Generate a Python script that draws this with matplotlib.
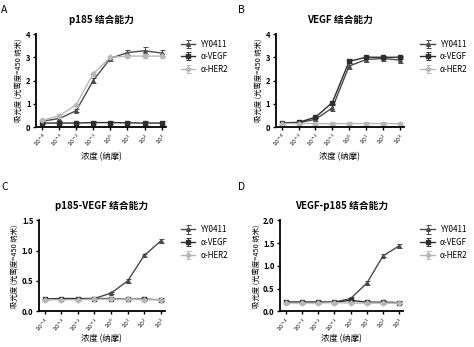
import numpy as np
import matplotlib
matplotlib.use("Agg")
from matplotlib import pyplot as plt

plt.rcParams['font.family'] = ['Noto Sans CJK SC', 'DejaVu Sans']
plt.rcParams['axes.unicode_minus'] = False

# concentrations (nM)
conc = [1e-4, 1e-3, 1e-2, 1e-1, 1e0, 1e1, 1e2, 1e3]
tick_labels = ['$10^{-4}$', '$10^{-3}$', '$10^{-2}$', '$10^{-1}$',
               '$10^{0}$', '$10^{1}$', '$10^{2}$', '$10^{3}$']
series_names = ['YY0411', 'α-VEGF', 'α-HER2']

# panel A: p185 binding
a_yy = [0.25, 0.36, 0.70, 2.00, 2.95, 3.20, 3.28, 3.18]
a_vegf = [0.17, 0.17, 0.17, 0.19, 0.19, 0.18, 0.17, 0.17]
a_her2 = [0.28, 0.48, 0.95, 2.30, 3.00, 3.05, 3.05, 3.05]
a_err = [0.05, 0.10, 0.07, 0.12, 0.10, 0.12, 0.14, 0.12]

# panel B: VEGF binding
b_yy = [0.18, 0.18, 0.33, 0.82, 2.62, 2.90, 2.95, 2.88]
b_vegf = [0.18, 0.20, 0.42, 1.05, 2.82, 3.00, 3.00, 3.00]
b_her2 = [0.15, 0.15, 0.15, 0.14, 0.15, 0.15, 0.15, 0.14]
b_err = [0.03, 0.03, 0.06, 0.12, 0.14, 0.10, 0.10, 0.12]

# panel C: p185-VEGF binding
c_yy = [0.20, 0.20, 0.20, 0.21, 0.30, 0.50, 0.92, 1.16]
c_vegf = [0.20, 0.21, 0.21, 0.21, 0.21, 0.20, 0.20, 0.19]
c_her2 = [0.19, 0.19, 0.19, 0.20, 0.20, 0.20, 0.19, 0.19]
c_err = [0.01, 0.01, 0.01, 0.01, 0.02, 0.03, 0.03, 0.04]

# panel D: VEGF-p185 binding
d_yy = [0.20, 0.20, 0.20, 0.20, 0.28, 0.62, 1.22, 1.44]
d_vegf = [0.20, 0.20, 0.20, 0.20, 0.24, 0.20, 0.20, 0.19]
d_her2 = [0.18, 0.18, 0.18, 0.19, 0.18, 0.18, 0.18, 0.18]
d_err = [0.01, 0.01, 0.01, 0.01, 0.03, 0.04, 0.03, 0.05]

panels = [
    ('A', 'p185 结合能力', (a_yy, a_vegf, a_her2), a_err, 4, [0, 1, 2, 3, 4], ['0', '1', '2', '3', '4'],
     [0.076, 0.634, 0.274, 0.268], (0.003, 0.985), (0.375, 0.895), -0.27),
    ('B', 'VEGF 结合能力', (b_yy, b_vegf, b_her2), b_err, 4, [0, 1, 2, 3, 4], ['0', '1', '2', '3', '4'],
     [0.582, 0.634, 0.270, 0.268], (0.503, 0.985), (0.88, 0.895), -0.27),
    ('C', 'p185-VEGF 结合能力', (c_yy, c_vegf, c_her2), c_err, 1.5, [0, 0.5, 1.0, 1.5], ['0.0', '0.5', '1.0', '1.5'],
     [0.082, 0.103, 0.266, 0.262], (0.003, 0.475), (0.375, 0.36), -0.25),
    ('D', 'VEGF-p185 结合能力', (d_yy, d_vegf, d_her2), d_err, 2.0, [0, 0.5, 1.0, 1.5, 2.0], ['0.0', '0.5', '1.0', '1.5', '2.0'],
     [0.591, 0.103, 0.260, 0.262], (0.503, 0.475), (0.88, 0.36), -0.25),
]

colors = ['#4a4a4a', '#2e2e2e', '#b8b8b8']
markers = ['^', 's', 'D']

fig = plt.figure(figsize=(4.74, 3.47), dpi=100)

for letter, title, ys, err, ymax, yticks, ylabels, rect, lpos, legpos, xlab_y in panels:
    ax = fig.add_axes(rect)
    handles = []
    for i, y in enumerate(ys):
        e = err if i == 0 else [v * 0.6 for v in err]
        h = ax.errorbar(conc, y, yerr=e, color=colors[i], marker=markers[i],
                        markersize=2.6, lw=1.0, elinewidth=0.7, capsize=1.8,
                        capthick=0.7, label=series_names[i])
        handles.append(h)
    ax.set_xscale('log')
    ax.set_xlim(10 ** -4.35, 10 ** 3.25)
    ax.set_ylim(0, ymax)
    ax.set_xticks(conc)
    ax.set_xticklabels(tick_labels, rotation=45, fontsize=4.3,
                       ha='right', va='top', rotation_mode='anchor')
    ax.minorticks_off()
    ax.set_yticks(yticks)
    ax.set_yticklabels(ylabels, fontsize=5.5, fontweight='bold')
    for s in ['top', 'right']:
        ax.spines[s].set_visible(False)
    for s in ['left', 'bottom']:
        ax.spines[s].set_linewidth(1.3)
    ax.tick_params(width=1.0, length=2.5, pad=1.5)
    ax.tick_params(axis='x', pad=1)
    ax.set_title(title, fontsize=7, fontweight='bold', pad=8)
    ax.set_ylabel('吸光度 (光密度=450 纳米)', fontsize=5.3, labelpad=2)
    ax.set_xlabel('浓度 (纳摩)', fontsize=6)
    ax.xaxis.set_label_coords(0.5, xlab_y)
    fig.text(lpos[0], lpos[1], letter, fontsize=7.5, va='top', ha='left')
    fig.legend(handles=handles, loc='upper left', bbox_to_anchor=legpos,
               fontsize=5.8, frameon=False, handlelength=1.8, handletextpad=0.6,
               labelspacing=0.45, borderaxespad=0)

fig.savefig('out.png', dpi=100, facecolor='white')
